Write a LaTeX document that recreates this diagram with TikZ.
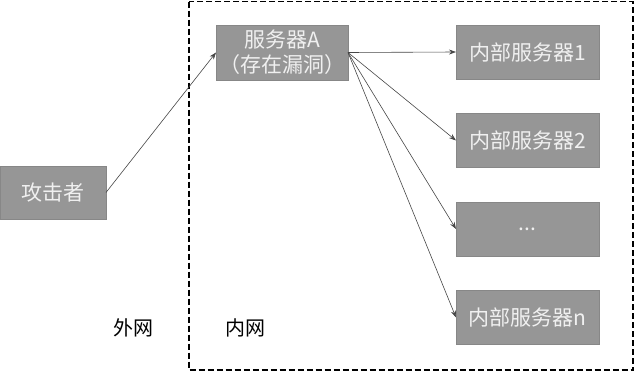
\documentclass[tikz,border=0pt]{standalone}
\usepackage{fontspec}
\newfontfamily\cjk{Noto Sans CJK SC}
\usepackage{tikz}
\usetikzlibrary{arrows.meta,positioning}
\definecolor{boxGray}{RGB}{150,150,150}
\definecolor{boxEdge}{RGB}{135,135,135}
\definecolor{boxText}{RGB}{240,240,240}
\definecolor{lineGray}{RGB}{70,70,70}

\begin{document}
\begin{tikzpicture}[x=1pt, y=-1pt,
    srvbox/.style={fill=boxGray, draw=boxEdge, line width=0.6pt, text=boxText,
      inner sep=0pt, outer sep=0pt, align=center,
      font=\cjk\fontsize{21}{25}\selectfont},
    netlabel/.style={font=\cjk\fontsize{20}{25}\selectfont, text=black},
    link/.style={draw=lineGray, line width=0.6pt, -{Stealth[length=7pt,width=5pt]}}]
    % canvas
    \useasboundingbox (0,0) rectangle (638,372);

    % intranet border (dashed)
    \draw[line width=1.3pt, dash pattern=on 6pt off 3pt] (189,1.5) rectangle (633,370);

    % attacker and vulnerable server
    \node[srvbox, minimum width=106pt, minimum height=53pt] (attacker) at (53,192.5) {攻击者};
    \node[srvbox, minimum width=132pt, minimum height=55pt] (srvA) at (282,52.5) {服务器A\\（存在漏洞）};

    % internal servers
    \node[srvbox, minimum width=143pt, minimum height=54pt] (inner1) at (527.5,52) {内部服务器1};
    \node[srvbox, minimum width=143pt, minimum height=54pt] (inner2) at (527.5,140.5) {内部服务器2};
    \node[srvbox, minimum width=143pt, minimum height=54pt] (inner3) at (527.5,229) {...};
    \node[srvbox, minimum width=143pt, minimum height=54pt] (innern) at (527.5,317.5) {内部服务器n};

    % network labels
    \node[netlabel] (outnet) at (133,328) {外网};
    \node[netlabel] (innet) at (245,328) {内网};

    % connectors
    \draw[link] (attacker.east) -- (srvA.west);
    \draw[link] (srvA.east) -- (inner1.west);
    \draw[link] (srvA.east) -- (inner2.west);
    \draw[link] (srvA.east) -- (inner3.west);
    \draw[link] (srvA.east) -- (innern.west);
  \end{tikzpicture}
\end{document}
